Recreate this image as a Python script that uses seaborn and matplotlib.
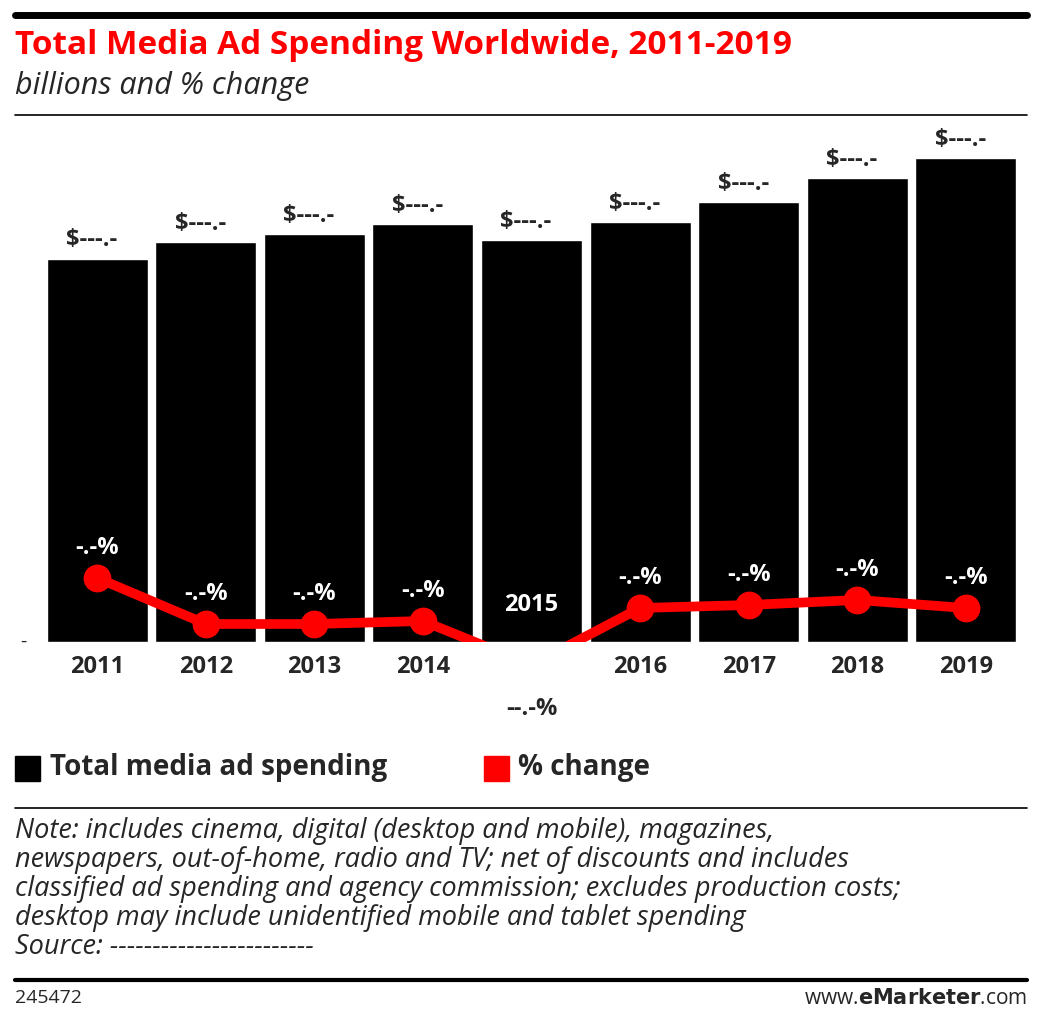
import numpy as np
import pandas as pd
import matplotlib.pyplot as plt
import seaborn as sns
from matplotlib.lines import Line2D
from matplotlib.patches import Rectangle

years = ['2011', '2012', '2013', '2014', '2015', '2016', '2017', '2018', '2019']
spending = [498, 519, 530, 543, 522, 545, 571, 603, 628]
pct_change = [6.4, 1.8, 1.8, 2.1, -2.3, 3.4, 3.7, 4.2, 3.4]
bar_labels = ['$---.-'] * 9
pct_labels = ['-.-%', '-.-%', '-.-%', '-.-%', '--.-%', '-.-%', '-.-%', '-.-%', '-.-%']

df = pd.DataFrame({'year': years, 'spending': spending, 'pct': pct_change, 'pos': range(9)})

sns.set_theme(style='white')
plt.rcParams['font.family'] = ['Open Sans', 'DejaVu Sans']

fig = plt.figure(figsize=(10.4, 10.25), dpi=100)
W, H = 1040, 1025
ax = fig.add_axes([43 / W, 1 - 642 / H, (1020 - 43) / W, 512 / H])

sns.barplot(data=df, x='year', y='spending', color='black', width=0.93,
            saturation=1, ax=ax)
ax.set_ylim(0, 665)
ax.set_xlim(-0.5, 8.5)
ax.set_xlabel('')
ax.set_ylabel('')
ax.set_yticks([])
ax.set_xticks([])
for s in ax.spines.values():
    s.set_visible(False)

for i, (v, lab) in enumerate(zip(spending, bar_labels)):
    ax.text(i - 0.05, v + 8, lab, ha='center', va='bottom', fontsize=17, fontweight='bold')
    if years[i] == '2015':
        ax.text(i, 48, years[i], ha='center', va='center', fontsize=17,
                fontweight='bold', color='white')
    else:
        ax.text(i, -32, years[i], ha='center', va='center', fontsize=17, fontweight='bold')

ax2 = ax.twinx()
sns.lineplot(data=df, x='pos', y='pct', color='#ff0000', linewidth=7, marker='o',
             markersize=20, markeredgewidth=0, ax=ax2)
ax2.set_ylim(0, 51.2)
ax2.set_yticks([])
ax2.set_xlabel('')
ax2.set_ylabel('')
for s in ax2.spines.values():
    s.set_visible(False)
for i, (p, lab) in enumerate(zip(pct_change, pct_labels)):
    if p < 0:
        ax2.text(i, p - 3.2, lab, ha='center', va='top', fontsize=17, fontweight='bold')
    else:
        ax2.text(i, p + 1.8, lab, ha='center', va='bottom', fontsize=17, fontweight='bold',
                 color='white')
ax2.set_xlim(-0.5, 8.5)

fig.text(20 / W, 1 - 642 / H, '-', fontsize=14, va='center')

# header / rules
def hline(y, lw):
    fig.add_artist(Line2D([15 / W, 1027 / W], [1 - y / H] * 2, color='black', lw=lw))

hline(15, 5)
hline(115, 1.2)
hline(808, 1.2)
hline(980, 3)
fig.text(15 / W, 1 - 45 / H, 'Total Media Ad Spending Worldwide, 2011-2019', color='#ff0000',
         fontsize=24, fontweight='bold', va='center')
fig.text(15 / W, 1 - 86 / H, 'billions and % change', fontsize=22, style='italic', va='center')

# legend
fig.add_artist(Rectangle((15 / W, 1 - 781 / H), 25 / W, 25 / H, color='black'))
fig.text(50 / W, 1 - 768 / H, 'Total media ad spending', fontsize=20, fontweight='bold', va='center')
fig.add_artist(Rectangle((484 / W, 1 - 781 / H), 25 / W, 25 / H, color='#ff0000'))
fig.text(518 / W, 1 - 768 / H, '% change', fontsize=20, fontweight='bold', va='center')

note = ('Note: includes cinema, digital (desktop and mobile), magazines,\n'
        'newspapers, out-of-home, radio and TV; net of discounts and includes\n'
        'classified ad spending and agency commission; excludes production costs;\n'
        'desktop may include unidentified mobile and tablet spending\n'
        'Source: ------------------------')
fig.text(15 / W, 1 - 817 / H, note, fontsize=19.5, style='italic', va='top', linespacing=1.05)
fig.text(15 / W, 1 - 998 / H, '245472', fontsize=14, va='center')
fig.text(1027 / W, 1 - 998 / H, 'www.$\\bf{eMarketer}$.com', fontsize=15, va='center', ha='right')

fig.savefig('out.png', dpi=100)
